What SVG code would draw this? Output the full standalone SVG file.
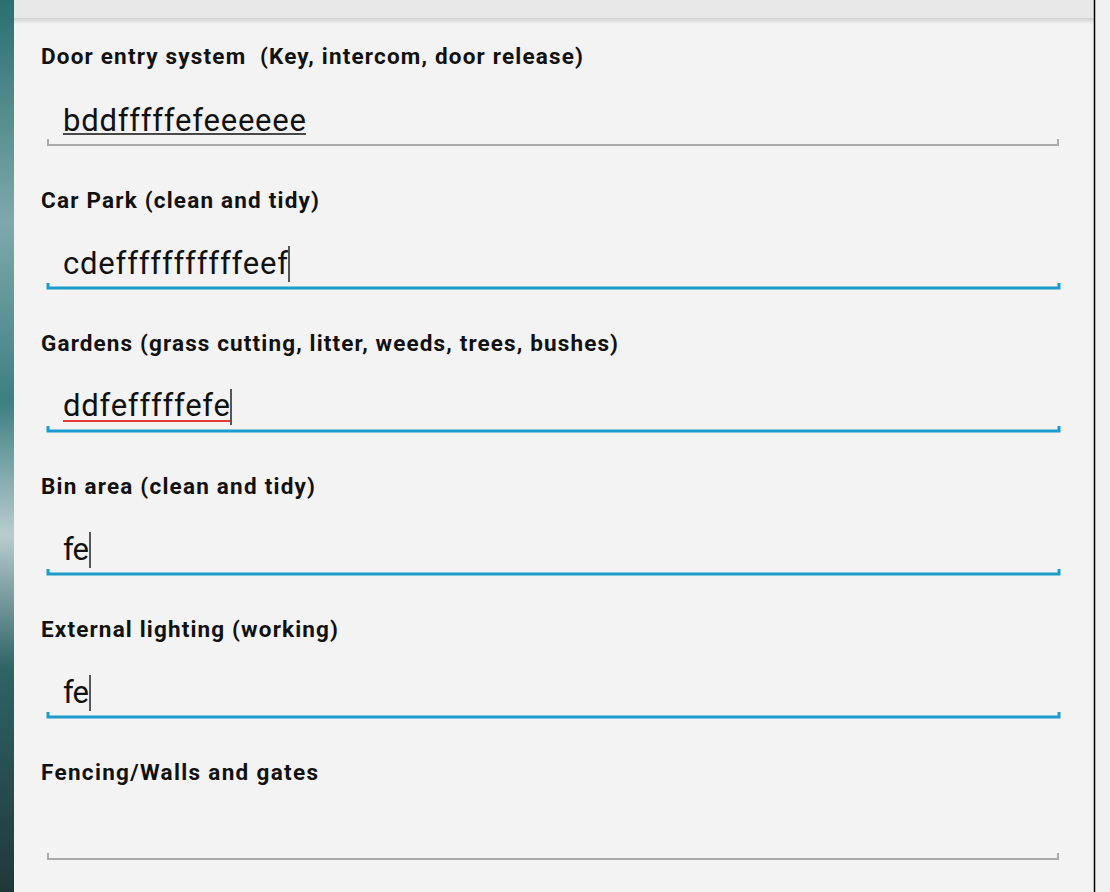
<svg xmlns="http://www.w3.org/2000/svg" width="1110" height="892" viewBox="0 0 1110 892">
<style>
.lab{font-family:Roboto,"Liberation Sans",sans-serif;font-weight:bold;font-size:22.5px;fill:#111}
.val{font-family:Roboto,"Liberation Sans",sans-serif;font-size:31px;fill:#111}
.gray{stroke:#aaaaaa;stroke-width:2;fill:none}
.blue{stroke:#1a9ccc;stroke-width:3;fill:none}
.cur{stroke:#222;stroke-width:1.5}
</style>
<defs>
<linearGradient id="sea" x1="0" y1="0" x2="0" y2="1">
<stop offset="0" stop-color="#2a6f70"/><stop offset="0.25" stop-color="#7fa8ac"/><stop offset="0.45" stop-color="#3d7f82"/><stop offset="0.6" stop-color="#b9cccd"/><stop offset="0.75" stop-color="#2f6365"/><stop offset="1" stop-color="#203838"/>
</linearGradient>
<linearGradient id="sh" x1="0" y1="0" x2="0" y2="1"><stop offset="0" stop-color="#d0d0d0"/><stop offset="1" stop-color="#f3f3f3"/></linearGradient>
</defs>
<rect width="1110" height="892" fill="#f0f0f0"/>
<rect x="0" y="0" width="14" height="892" fill="url(#sea)"/>
<rect x="14" y="0" width="1080" height="892" fill="#f3f3f3"/>
<rect x="14" y="0" width="1080" height="18" fill="#e8e8e8"/>
<rect x="14" y="18" width="1080" height="6" fill="url(#sh)"/>
<line x1="1094.5" y1="0" x2="1094.5" y2="892" stroke="#000" stroke-width="1.5"/>
<g id="field1">
<text class="lab" x="41" y="64" xml:space="preserve" textLength="542">Door entry system  (Key, intercom, door release)</text>
<text class="val" x="63" y="131" textLength="243">bddfffffefeeeeee</text>
<line x1="63" y1="134" x2="306" y2="134" stroke="#111" stroke-width="1.5"/>
<path class="gray" d="M48 139V145H1058V139"/>
</g>
<g id="field2">
<text class="lab" x="41" y="208" textLength="278">Car Park (clean and tidy)</text>
<text class="val" x="63" y="274" textLength="225">cdefffffffffffeef</text>
<line class="cur" x1="289" y1="246" x2="289" y2="282"/>
<path class="blue" d="M48 283V288H1059V283"/>
</g>
<g id="field3">
<text class="lab" x="41" y="351" textLength="577">Gardens (grass cutting, litter, weeds, trees, bushes)</text>
<text class="val" x="63" y="416" textLength="167">ddfefffffefe</text>
<line x1="63" y1="421" x2="230" y2="421" stroke="#e53935" stroke-width="2"/>
<line class="cur" x1="231" y1="389" x2="231" y2="425"/>
<path class="blue" d="M48 426V431H1059V426"/>
</g>
<g id="field4">
<text class="lab" x="41" y="494" textLength="274">Bin area (clean and tidy)</text>
<text class="val" x="63" y="560" textLength="26">fe</text>
<line class="cur" x1="90" y1="532" x2="90" y2="568"/>
<path class="blue" d="M48 569V574H1059V569"/>
</g>
<g id="field5">
<text class="lab" x="41" y="637" textLength="297">External lighting (working)</text>
<text class="val" x="63" y="703" textLength="26">fe</text>
<line class="cur" x1="90" y1="675" x2="90" y2="711"/>
<path class="blue" d="M48 712V717H1059V712"/>
</g>
<g id="field6">
<text class="lab" x="41" y="780" textLength="277">Fencing/Walls and gates</text>
<path class="gray" d="M48 853V859H1058V853"/>
</g>
<g id="connectors"/>
</svg>
